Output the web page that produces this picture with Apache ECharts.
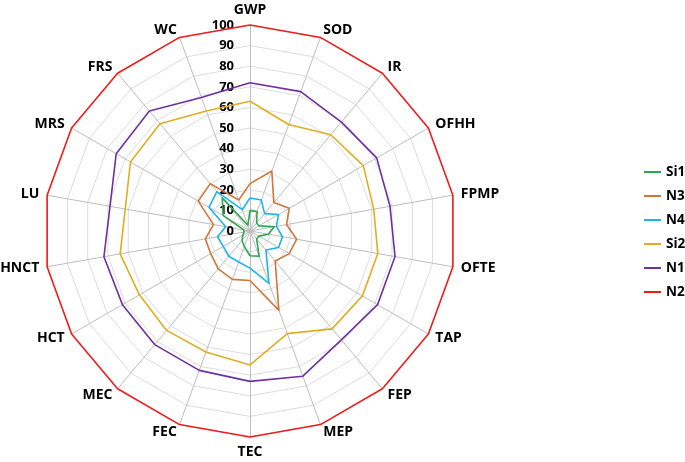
<!DOCTYPE html>
<html>
<head>
<meta charset="utf-8">
<script src="https://cdn.jsdelivr.net/npm/echarts@6/dist/echarts.min.js"></script>
<style>html,body{margin:0;padding:0;background:#fff}#c{width:685px;height:462px}</style>
</head>
<body>
<div id="c"></div>
<script>
// Indicators in clockwise order starting from top
const categories = ['GWP','SOD','IR','OFHH','FPMP','OFTE','TAP','FEP','MEP','TEC','FEC','MEC','HCT','HNCT','LU','MRS','FRS','WC'];
const seriesNames = ['Si1','N3','N4','Si2','N1','N2'];
const Si1 = [10, 10, 5, 5, 12, 9, 5, 5, 13, 12, 8, 6, 4, 3, 3, 15, 21, 3];
const N3  = [23, 31, 18, 22, 18, 23, 22, 19, 41, 24, 25, 24, 22, 22, 18, 29, 30, 16];
const N4  = [16, 16, 11, 16, 13, 16, 16, 12, 27, 18, 16, 16, 15, 16, 12, 23, 25, 11];
const Si2 = [63, 55, 61, 63.5, 61, 63, 63, 62, 53, 65, 62.5, 63, 62, 64, 61.5, 67, 68, 62];
const N1  = [72, 72, 69, 71, 69, 71.5, 71.5, 69, 75, 73, 72, 72, 71.5, 72, 69, 75, 76, 69];
const N2  = [100, 100, 100, 100, 100, 100, 100, 100, 100, 100, 100, 100, 100, 100, 100, 100, 100, 100];
const tickLabels = ['0','10','20','30','40','50','60','70','80','90','100'];

const colors = ['#2ea84f', '#cf773a', '#1fb3ea', '#e0ae22', '#7030a0', '#f01c1c'];
const values = [Si1, N3, N4, Si2, N1, N2];

// ECharts radar runs counter-clockwise; reorder so the chart reads clockwise
const order = [0];
for (let i = categories.length - 1; i >= 1; i--) order.push(i);

const font = '"Open Sans", "Noto Sans", sans-serif';
const indicator = order.map((i, k) => {
  const o = { name: categories[i], max: 100, min: 0 };
  if (k === 0) o.axisLabel = { show: true };
  return o;
});

const chart = echarts.init(document.getElementById('c'), null, { renderer: 'canvas' });
chart.setOption({
  animation: false,
  color: colors,
  legend: {
    orient: 'vertical',
    left: 644,
    top: 165,
    padding: 0,
    itemWidth: 17,
    itemHeight: 2,
    itemGap: 10,
    icon: 'rect',
    data: seriesNames,
    textStyle: { color: '#000', fontWeight: 'bold', fontSize: 13.5, fontFamily: font }
  },
  radar: {
    center: [250, 231],
    radius: 206,
    startAngle: 90,
    shape: 'polygon',
    splitNumber: 10,
    nameGap: 8,
    axisName: { color: '#000', fontWeight: 'bold', fontSize: 14, fontFamily: font },
    axisLine: { lineStyle: { color: '#bdbdbd', width: 1 } },
    splitLine: { lineStyle: { color: '#dcdcdc', width: 1 } },
    splitArea: { show: false },
    axisTick: { show: false },
    axisLabel: {
      show: false,
      color: '#000',
      fontWeight: 'bold',
      fontSize: 13,
      fontFamily: font,
      margin: 16,
      formatter: (v) => tickLabels[Math.round(v / 10)] ?? ''
    },
    indicator: indicator
  },
  series: [{
    type: 'radar',
    symbol: 'none',
    data: seriesNames.map((n, s) => ({
      name: n,
      value: order.map(i => values[s][i]),
      lineStyle: { color: colors[s], width: 1.6 },
      itemStyle: { color: colors[s] }
    }))
  }]
});
</script>
</body>
</html>
